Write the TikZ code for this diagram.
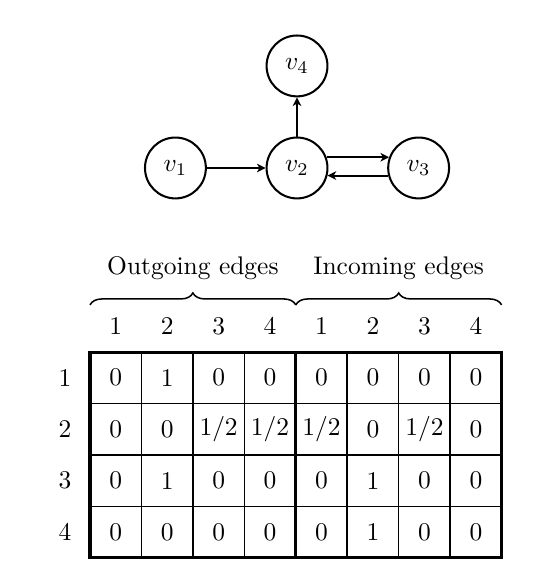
\documentclass[tikz,border=0pt]{standalone}
\usetikzlibrary{positioning, arrows.meta, calc, decorations.pathreplacing}

\begin{document}
\begin{tikzpicture}[
  vtx/.style={draw, circle, thick, minimum size=0.84cm, inner sep=0pt},
  arr/.style={-{Stealth[length=3.4pt, width=3.4pt, inset=1pt]}, thick},
  cellnum/.style={minimum size=0.71cm, inner sep=0pt},
  brc/.style={decorate, decoration={brace, amplitude=4.7pt}, semithick},
  tbl/.style={very thick}
]
\useasboundingbox (-1.242,-3.077) rectangle (6.21,4.858);

% graph
\node[vtx] (v2) at (2.857,2.54) {$v_2$};
\node[vtx, left=0.81cm of v2] (v1) {$v_1$};
\node[vtx, right=0.81cm of v2] (v3) {$v_3$};
\node[vtx, above=0.54cm of v2] (v4) {$v_4$};

\draw[arr] (v1) -- (v2);
\draw[arr] (v2) -- (v4);
\draw[arr] (v2.20) -- (v3.160);
\draw[arr] (v3.194) -- (v2.-14);

% --- braces and headers ---
\draw[brc] (0,0.65) -- (2.84,0.65);
\draw[brc] (2.84,0.65) -- (5.68,0.65);
\node (out) at (1.42,1.16) {Outgoing edges};
\node (in) at (4.26,1.16) {Incoming edges};

\foreach \c [count=\i] in {1,2,3,4,1,2,3,4}
  \node (h\i) at ({(\i-0.5)*0.71},0.36) {\c};
\foreach \r in {1,...,4}
  \node (r\r) at (-0.345,{-(\r-0.5)*0.71}) {\r};

% --- table ---
\draw[semithick] (0,0) grid[step=0.71] (5.68,-2.84);
\draw[tbl] (0,0) rectangle (5.68,-2.84);
\draw[tbl] (2.84,0) -- (2.84,-2.84);

\foreach \r/\vals in {1/{0,1,0,0,0,0,0,0},
                      2/{0,0,$1/2$,$1/2$,$1/2$,0,$1/2$,0},
                      3/{0,1,0,0,0,1,0,0},
                      4/{0,0,0,0,0,1,0,0}}
  \foreach \v [count=\c] in \vals
    \node[cellnum] (m\r\c) at ({(\c-0.5)*0.71},{-(\r-0.5)*0.71}) {\v};

\end{tikzpicture}
\end{document}
